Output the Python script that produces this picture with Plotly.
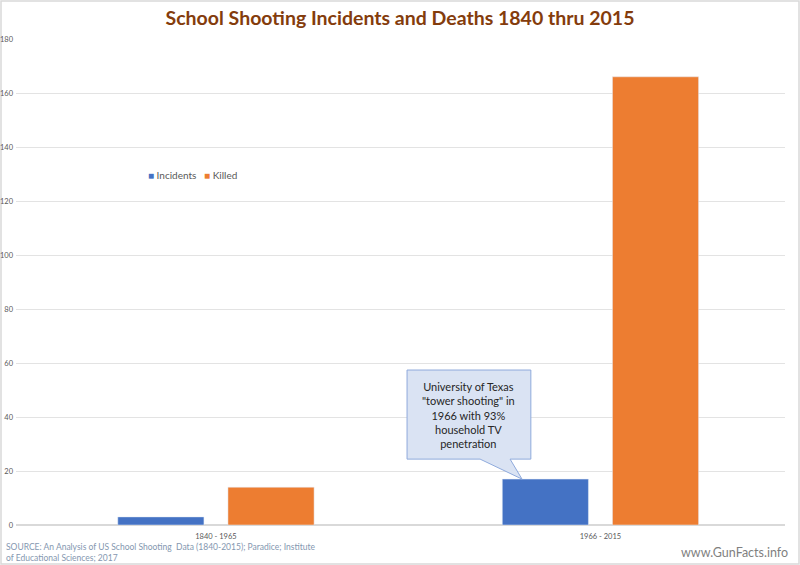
import plotly.graph_objects as go

# data
periods = ["1840 - 1965", "1966 - 2015"]
incidents = [3, 17]
killed = [14, 166]

ytick_vals = [0, 20, 40, 60, 80, 100, 120, 140, 160, 180]

title_text = "School Shooting Incidents and Deaths 1840 thru 2015"
callout_text = ("University of Texas<br>\"tower shooting\" in<br>1966 with 93%<br>"
                "household TV<br>penetration")
source_text = ("SOURCE: An Analysis of US School Shooting  Data (1840-2015); Paradice; Institute<br>"
               "of Educational Sciences; 2017")

BLUE = "#4472C4"
ORANGE = "#ED7D31"
FONT = "Lato"

fig = go.Figure()
fig.add_trace(go.Bar(x=periods, y=incidents, name="Incidents", marker_color=BLUE))
fig.add_trace(go.Bar(x=periods, y=killed, name="Killed", marker_color=ORANGE))

# margins in pixels -> plot area 16..785 x 39..525
W, H = 800, 565
ml, mr, mt, mb = 16, 15, 39, 40
pw, ph = W - ml - mr, H - mt - mb

# callout box with a wedge tail pointing at the second Incidents bar
tip_y = incidents[1]
bx0, bx1, by0, by1 = 0.497, 0.819, 24.4, 57.4
path = (f"M {bx0},{by1} L {bx1},{by1} L {bx1},{by0} L 0.765,{by0} "
        f"L 0.796,{tip_y} L 0.687,{by0} L {bx0},{by0} Z")
fig.add_shape(type="path", path=path, xref="x", yref="y",
              fillcolor="#DAE3F3", line=dict(color="#8FAADC", width=1), layer="above")
fig.add_annotation(x=(bx0 + bx1) / 2, y=(by0 + by1) / 2, xref="x", yref="y",
                   text=callout_text, showarrow=False,
                   font=dict(family=FONT, size=11, color="#262626"), align="center")

# outer chart border
fig.add_shape(type="rect", xref="paper", yref="paper",
              x0=-(ml - 1) / pw, x1=1 + (mr - 1) / pw, y0=-(mb - 1) / ph, y1=1 + (mt - 1) / ph,
              line=dict(color="#D9D9D9", width=1.5), fillcolor="rgba(0,0,0,0)", layer="below")

# compact legend like the original (small squares next to the names)
legend_text = (f"<span style='color:{BLUE}'>■</span> Incidents&nbsp;&nbsp;&nbsp;"
               f"<span style='color:{ORANGE}'>■</span> Killed")
fig.add_annotation(x=(146 - ml) / pw, y=(525 - 175) / ph, xref="paper", yref="paper",
                   xanchor="left", yanchor="middle", showarrow=False,
                   text=legend_text, font=dict(family=FONT, size=10, color="#595959"))

fig.add_annotation(x=-(ml - 4) / pw, y=-27 / ph, xref="paper", yref="paper",
                   xanchor="left", yanchor="middle", align="left", showarrow=False,
                   text=source_text, font=dict(family=FONT, size=8.5, color="#8497B0"))
fig.add_annotation(x=1 + (mr - 10) / pw, y=-27 / ph, xref="paper", yref="paper",
                   xanchor="right", yanchor="middle", showarrow=False,
                   text="www.GunFacts.info", font=dict(family=FONT, size=12.5, color="#7F7F7F"))

fig.update_layout(
    width=W, height=H,
    margin=dict(l=ml, r=mr, t=mt, b=mb, pad=0),
    paper_bgcolor="white", plot_bgcolor="white",
    title=dict(text=f"<b>{title_text}</b>", x=0.5, xanchor="center", y=1 - 18 / H, yanchor="middle",
               font=dict(family=FONT, size=19.5, color="#843C0C")),
    barmode="group", bargap=0.427, bargroupgap=0.218,
    showlegend=False,
)
fig.update_xaxes(range=[-0.52, 1.48], showgrid=False, zeroline=False, showline=False,
                 automargin=False, ticks="", ticklabelstandoff=5,
                 tickfont=dict(family=FONT, size=7.5, color="#595959"))
fig.update_yaxes(range=[0, 180], tickvals=ytick_vals, showgrid=True, gridcolor="#E3E3E3",
                 gridwidth=1, zeroline=True, zerolinecolor="#D9D9D9", showline=False,
                 automargin=False, ticks="", ticklabelstandoff=2,
                 tickfont=dict(family=FONT, size=7.5, color="#595959"))

fig.write_html("out.html", config={"displayModeBar": False},
               post_script="document.body.style.margin='0';document.body.style.overflow='hidden';")
